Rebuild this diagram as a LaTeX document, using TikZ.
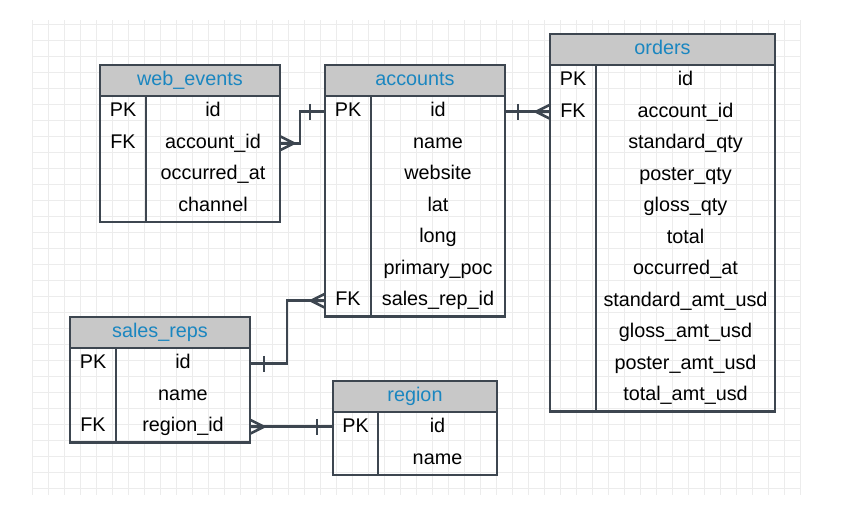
\documentclass[tikz,border=0pt]{standalone}
\usepackage{fontspec}
\setmainfont{Liberation Sans}
\usepackage{tikz}
\usetikzlibrary{positioning}
\definecolor{frame}{HTML}{3D4650}
\definecolor{head}{HTML}{C8C8C8}
\definecolor{title}{HTML}{1A86C0}
\definecolor{gridc}{HTML}{ECECEC}
\tikzset{
  cell/.style={minimum height=31.5pt, inner sep=0pt, outer sep=0pt,
    text height=14pt, text depth=4pt, font=\fontsize{19.8}{22}\selectfont},
  hdr/.style={cell, draw=frame, line width=2.6pt, fill=head, text=title, minimum height=31pt},
  conn/.style={draw=frame, line width=2.6pt},
  crow/.pic={\draw[conn] (-14,0) -- (0,7) (-14,0) -- (0,0) (-14,0) -- (0,-7);},
  bar/.pic={\draw[conn] (0,-8) -- (0,8);},
}
% table: node name, title, x, y, width, key column width, rows
\newcommand{\erdtable}[7]{
  \node[hdr, minimum width=#5pt, anchor=north west] (#1-0) at (#3,#4) {#2};
  \coordinate (#1-top) at ([xshift=#6pt]#1-0.south west);
  \foreach \k/\f [count=\i] in {#7} {
    \pgfmathtruncatemacro{\j}{\i-1}
    \node[cell, minimum width=#5pt-#6pt, anchor=north east] (#1-\i) at (#1-\j.south east) {\f};
    \node[cell, minimum width=#6pt, anchor=east] (#1-k\i) at (#1-\i.west) {\k};
    \xdef\lastrow{\i}
  }
  \draw[conn] (#1-0.south west) rectangle (#1-\lastrow.south east);
  \draw[conn] (#1-top) -- (#1-\lastrow.south west);
}
\begin{document}
\begin{tikzpicture}[x=1pt,y=-1pt]
  \useasboundingbox (0,0) rectangle (843,522);
  \fill[white] (0,0) rectangle (843,522);

  % background grid
  \foreach \gx in {32,48,...,800} \draw[gridc, line width=0.6pt] (\gx,20) -- (\gx,495);
  \foreach \gy in {24,40,...,495} \draw[gridc, line width=0.6pt] (32,\gy) -- (800,\gy);

  % tables
  \erdtable{web}{web\_events}{100}{65}{180}{46}{PK/id,FK/account\_id,/occurred\_at,/channel}
  \erdtable{acc}{accounts}{325}{65}{180}{46}{PK/id,/name,/website,/lat,/long,/primary\_poc,FK/sales\_rep\_id}
  \erdtable{ord}{orders}{550}{34}{225}{46}{PK/id,FK/account\_id,/standard\_qty,/poster\_qty,/gloss\_qty,/total,/occurred\_at,/standard\_amt\_usd,/gloss\_amt\_usd,/poster\_amt\_usd,/total\_amt\_usd}
  \erdtable{rep}{sales\_reps}{70}{317}{180}{46}{PK/id,/name,FK/region\_id}
  \erdtable{reg}{region}{333}{381}{164}{45}{PK/id,/name}

  % relations
  \draw[conn] (web-2.east) -- ++(20,0) |- (acc-k1.west);
  \pic[rotate=180] at (web-2.east) {crow};
  \pic at ([xshift=-15pt]acc-k1.west) {bar};

  \draw[conn] (acc-1.east) -- (ord-k2.west |- acc-1.east);
  \pic at ([xshift=13pt]acc-1.east) {bar};
  \pic at (ord-k2.west |- acc-1.east) {crow};

  \draw[conn] (rep-1.east) -- ++(37,0) |- (acc-k7.west);
  \pic at ([xshift=14pt]rep-1.east) {bar};
  \pic at (acc-k7.west) {crow};

  \draw[conn] (rep-3.east) -- (reg-k1.west |- rep-3.east);
  \pic[rotate=180] at (rep-3.east) {crow};
  \pic at ([xshift=-16pt]reg-k1.west |- rep-3.east) {bar};
\end{tikzpicture}
\end{document}
